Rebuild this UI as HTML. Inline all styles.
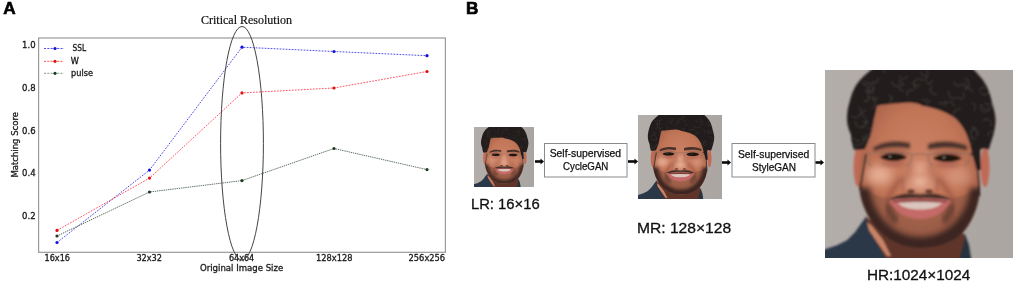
<!DOCTYPE html>
<html><head><meta charset="utf-8"><title>Figure</title>
<style>
html,body{margin:0;padding:0;background:#fff;}
body{width:1021px;height:288px;overflow:hidden;}
svg.main{display:block;}
</style></head>
<body>
<svg class="main" width="1021" height="288" viewBox="0 0 1021 288">
<rect width="1021" height="288" fill="#fff"/>

<g id="chart">
  <text x="3.2" y="13.6" font-family="Liberation Sans, Arial, sans-serif" font-weight="bold" font-size="17.2" fill="#000" stroke="#000" stroke-width="0.6">A</text>
  <text x="201" y="23.6" font-family="Liberation Serif, Times New Roman, serif" font-size="12.2" fill="#111" stroke="#111" stroke-width="0.2" textLength="91" lengthAdjust="spacingAndGlyphs">Critical Resolution</text>
  <rect x="38.6" y="38" width="406.8" height="214.3" fill="none" stroke="#9a9a9a" stroke-width="1.2"/>

  <g font-family="DejaVu Sans, sans-serif" font-size="8.5" fill="#1a1a1a" stroke="#1a1a1a" stroke-width="0.3" text-anchor="end">
    <text x="35.6" y="48.0">1.0</text>
    <text x="35.6" y="90.8">0.8</text>
    <text x="35.6" y="133.5">0.6</text>
    <text x="35.6" y="176.3">0.4</text>
    <text x="35.6" y="219.1">0.2</text>
  </g>
  <g font-family="DejaVu Sans, sans-serif" font-size="8.5" fill="#1a1a1a" stroke="#1a1a1a" stroke-width="0.3" text-anchor="middle">
    <text x="57.25" y="261.1" font-size="8.1" textLength="25.6" lengthAdjust="spacingAndGlyphs">16x16</text>
    <text x="149.2" y="261.1" font-size="8.1" textLength="25.6" lengthAdjust="spacingAndGlyphs">32x32</text>
    <text x="241.6" y="261.1" font-size="8.1" textLength="25.3" lengthAdjust="spacingAndGlyphs">64x64</text>
    <text x="334.3" y="261.1" font-size="8.1" textLength="36.6" lengthAdjust="spacingAndGlyphs">128x128</text>
    <text x="426.85" y="261.1" font-size="8.1" textLength="36.6" lengthAdjust="spacingAndGlyphs">256x256</text>
  </g>
  <text x="241.6" y="270.8" font-family="DejaVu Sans, sans-serif" font-size="8.5" fill="#1a1a1a" stroke="#1a1a1a" stroke-width="0.3" text-anchor="middle" textLength="83.3" lengthAdjust="spacingAndGlyphs">Original Image Size</text>
  <text transform="translate(18.4,144.8) rotate(-90)" font-family="DejaVu Sans, sans-serif" font-size="8.5" fill="#1a1a1a" stroke="#1a1a1a" stroke-width="0.3" text-anchor="middle" textLength="65.5" lengthAdjust="spacingAndGlyphs">Matching Score</text>

  <g fill="none" stroke-width="0.85" stroke-dasharray="1.7 1.3">
    <polyline points="57,242.5 149.5,170.1 242,47.2 334,51.5 427,55.7" stroke="#2a2ae0"/>
    <polyline points="57,230.4 149.5,178.1 242,92.9 334,88 427,71.5" stroke="#ff3344"/>
    <polyline points="57,236 149.5,192 242,180.6 334,148.5 427,169.6" stroke="#5f7363" stroke-width="1" stroke-dasharray="1.4 0.8"/>
  </g>
  <circle cx="57" cy="242.5" r="1.6" fill="#1010e0"/><circle cx="149.5" cy="170.1" r="1.6" fill="#1010e0"/><circle cx="242" cy="47.2" r="1.6" fill="#1010e0"/><circle cx="334" cy="51.5" r="1.6" fill="#1010e0"/><circle cx="427" cy="55.7" r="1.6" fill="#1010e0"/>
  <circle cx="57" cy="230.4" r="1.6" fill="#e01010"/><circle cx="149.5" cy="178.1" r="1.6" fill="#e01010"/><circle cx="242" cy="92.9" r="1.6" fill="#e01010"/><circle cx="334" cy="88" r="1.6" fill="#e01010"/><circle cx="427" cy="71.5" r="1.6" fill="#e01010"/>
  <circle cx="57" cy="236" r="1.6" fill="#1d3a22"/><circle cx="149.5" cy="192" r="1.6" fill="#1d3a22"/><circle cx="242" cy="180.6" r="1.6" fill="#1d3a22"/><circle cx="334" cy="148.5" r="1.6" fill="#1d3a22"/><circle cx="427" cy="169.6" r="1.6" fill="#1d3a22"/>

  <!-- legend -->
  <g fill="none" stroke-width="0.8" stroke-dasharray="2 1.3">
    <line x1="44" x2="64" y1="48.5" y2="48.5" stroke="#2020ff"/>
    <line x1="44" x2="64" y1="61.3" y2="61.3" stroke="#ff2020"/>
    <line x1="44" x2="64" y1="73.3" y2="73.3" stroke="#5e7e64"/>
  </g>
  <circle cx="55" cy="48.5" r="1.6" fill="#1010e0"/>
  <circle cx="55" cy="61.3" r="1.6" fill="#e01010"/>
  <circle cx="55" cy="73.3" r="1.6" fill="#1d3a22"/>
  <g font-family="DejaVu Sans, sans-serif" font-size="8.2" fill="#1a1a1a" stroke="#1a1a1a" stroke-width="0.3">
    <text x="72.5" y="50.8" textLength="13.6" lengthAdjust="spacingAndGlyphs">SSL</text>
    <text x="70.8" y="63.9">W</text>
    <text x="71.1" y="76.4" textLength="21.9" lengthAdjust="spacingAndGlyphs">pulse</text>
  </g>

  <ellipse cx="242" cy="143.3" rx="21.4" ry="116.8" fill="none" stroke="#444" stroke-width="1"/>
</g>


<g id="panelB">
  <text x="466" y="13.6" font-family="Liberation Sans, Arial, sans-serif" font-weight="bold" font-size="17.2" fill="#000" stroke="#000" stroke-width="0.7">B</text>
  <svg x="474" y="127" width="60" height="60" viewBox="0 0 188 188" preserveAspectRatio="none">
  <defs>
    <linearGradient id="bgl" x1="0" x2="1" y1="0" y2="0">
      <stop offset="0" stop-color="#b3aeaa"/>
      <stop offset="1" stop-color="#aba5a1"/>
    </linearGradient>
    <radialGradient id="skinl" cx="0.5" cy="0.45" r="0.62">
      <stop offset="0" stop-color="#cc8266"/>
      <stop offset="0.55" stop-color="#c27658"/>
      <stop offset="0.85" stop-color="#a9634b"/>
      <stop offset="1" stop-color="#8e5040"/>
    </radialGradient>
    <radialGradient id="brdl" gradientUnits="userSpaceOnUse" cx="95" cy="132" r="56" fx="95" fy="138">
      <stop offset="0" stop-color="#3a2620" stop-opacity="0.0"/>
      <stop offset="0.45" stop-color="#3a2620" stop-opacity="0.15"/>
      <stop offset="0.7" stop-color="#33221d" stop-opacity="0.55"/>
      <stop offset="0.88" stop-color="#2c1e1a" stop-opacity="0.88"/>
      <stop offset="1" stop-color="#261a17" stop-opacity="1"/>
    </radialGradient>
    <filter id="bll" x="-10%" y="-10%" width="120%" height="120%">
      <feGaussianBlur stdDeviation="2.3"/>
    </filter>
    <filter id="bbl" x="-20%" y="-20%" width="140%" height="140%">
      <feGaussianBlur stdDeviation="5.75"/>
    </filter>
    <filter id="bcl" x="-50%" y="-50%" width="200%" height="200%">
      <feGaussianBlur stdDeviation="11.5"/>
    </filter>
  </defs>
  <rect x="0" y="0" width="188" height="188" fill="url(#bgl)"/>
  <g filter="url(#bll)">
    <!-- shirt -->
    <path d="M-5,194 L-5,181 L12,175.3 L22,170.3 L30,162.2 L37.2,152.1 L41,147 L48,156 L66,190 Z" fill="#2c3847"/>
    <path d="M126,194 L132,170 L140,164 L144,175 L147,194 Z" fill="#27313e"/>
    <!-- neck -->
    <path d="M40,146 L60,162 L80,174 L98,177 L120,171 L136,158 L140,168 L133,194 L64,194 L46,162 Z" fill="#5e3429"/>
    <path d="M42,152 L47,156 L58,170 L66,186 L62,186 L52,172 L44,160 Z" fill="#c98466"/>
    <!-- ears -->
    <ellipse cx="33.5" cy="97" rx="5" ry="20" fill="#c06a56"/>
    <ellipse cx="160" cy="97" rx="4.5" ry="20" fill="#c06a56"/>
    <!-- face skin -->
    <path d="M40,70 C40,50 44,36 50,30 C70,20 125,18 144,58 L150,80 C154,95 156,115 154,127 C151,145 143,158 133,168 C122,175 108,178 95,178 C80,178 66,172 56,163 C47,154 40,143 36,128 C33,115 33,95 37,78 Z" fill="url(#skinl)"/>
    <!-- cheeks -->
    <ellipse cx="54" cy="105" rx="13" ry="10" fill="#f2c0a8" opacity="0.75" filter="url(#bcl)"/>
    <ellipse cx="133" cy="106" rx="13" ry="10" fill="#e8b09a" opacity="0.45" filter="url(#bcl)"/>
    <!-- beard -->
    <clipPath id="fcl"><path d="M40,70 C40,50 44,36 50,30 C70,20 125,18 144,58 L150,80 C154,95 156,115 154,127 C151,145 143,158 133,168 C122,175 108,178 95,178 C80,178 66,172 56,163 C47,154 40,143 36,128 C33,115 33,95 37,78 Z"/></clipPath>
    <g clip-path="url(#fcl)">
      <path d="M30,108 C35,128 42,146 56,161 C66,171 80,180 96,180 C112,180 127,169 138,157 C150,144 158,128 160,108 C152,118 146,123 136,126 C128,128 124,128 120,126 C110,123 100,123 95,123 C88,123 78,123 70,126 C64,128 60,128 54,126 C44,123 38,118 30,108 Z" fill="#3a2620" opacity="0.22"/>
      <path d="M37,118 C38,134 45,148 57,160 C68,170 82,175 95,175 C110,175 124,169 135,159 C146,147 152,134 153,118" fill="none" stroke="#2c1e1a" stroke-width="16" opacity="0.82" filter="url(#bbl)"/>
      <path d="M62,134 C64,142 68,148 72,152" fill="none" stroke="#2c1e1a" stroke-width="7" opacity="0.5" filter="url(#bbl)"/>
      <path d="M128,134 C126,142 122,148 118,152" fill="none" stroke="#2c1e1a" stroke-width="7" opacity="0.5" filter="url(#bbl)"/>
    </g>
    <!-- nasolabial shadows -->
    <path d="M77,108 C70,116 64,124 62,132" fill="none" stroke="#7e4032" stroke-width="3" opacity="0.8" filter="url(#bbl)"/>
    <path d="M113,108 C120,116 126,124 128,132" fill="none" stroke="#7e4032" stroke-width="3" opacity="0.8" filter="url(#bbl)"/>
    <!-- mustache -->
    <path d="M63,131 C70,124 84,122 95,124 C106,122 120,124 127,131 C116,128.5 106,128 95,129 C84,128 74,128.5 63,131 Z" fill="#46302a"/>
    <!-- mouth -->
    <path d="M64,130 C80,128 110,128 126,130 C120,143 107,149 95,149 C83,149 70,143 64,130 Z" fill="#c46a68"/>
    <path d="M73,133 C85,131.5 106,131.5 117,133 C113,137.5 105,139.5 95,139.5 C85,139.5 77,137.5 73,133 Z" fill="#dac6bc"/>
    <path d="M68,131 C85,129.5 106,129.5 122,131 L122,132.3 C106,131 85,131 68,132.3 Z" fill="#5a2a28"/>
    <!-- nose -->
    <path d="M86,92 C85,102 80,109 78,115 C80,121 88,123 95,123 C102,123 110,121 112,115 C110,109 105,102 104,92 Z" fill="#d99a80" opacity="0.7" filter="url(#bbl)"/>
    <path d="M86,94 C85,103 81,108 78,113" fill="none" stroke="#8e4c3c" stroke-width="2.5" opacity="0.55" filter="url(#bbl)"/>
    <path d="M104,94 C105,103 109,108 112,113" fill="none" stroke="#8e4c3c" stroke-width="2.5" opacity="0.55" filter="url(#bbl)"/>
    <ellipse cx="95" cy="112" rx="6.5" ry="5" fill="#ecb8a0" opacity="0.85" filter="url(#bbl)"/>
    <ellipse cx="95" cy="99" rx="3" ry="8" fill="#e6ac94" opacity="0.7" filter="url(#bbl)"/>
    <path d="M79,111 C76,115 76,119 80,121.5" fill="none" stroke="#7e4236" stroke-width="2" opacity="0.7" filter="url(#bbl)"/>
    <path d="M111,111 C114,115 114,119 110,121.5" fill="none" stroke="#7e4236" stroke-width="2" opacity="0.7" filter="url(#bbl)"/>
    <ellipse cx="86" cy="121" rx="4" ry="1.8" fill="#5a2c24" opacity="0.9"/>
    <ellipse cx="104" cy="121" rx="4" ry="1.8" fill="#5a2c24" opacity="0.9"/>
    <!-- eyebrows -->
    <path d="M48,78 C57,71 72,70 85,73 L85,78.5 C72,76 60,77 49,81 Z" fill="#46302a" filter="url(#bll)"/>
    <path d="M103,74 C117,70 131,71 142,76 L142,80.5 C131,77 118,77 103,79.5 Z" fill="#46302a" filter="url(#bll)"/>
    <!-- upper lid shadow -->
    <ellipse cx="68.5" cy="84" rx="15" ry="4" fill="#7a4234" opacity="0.55" filter="url(#bbl)"/>
    <ellipse cx="122.5" cy="85" rx="15" ry="4" fill="#7a4234" opacity="0.55" filter="url(#bbl)"/>
    <!-- lower lid shading -->
    <ellipse cx="68.5" cy="93" rx="13" ry="3.5" fill="#9a5048" opacity="0.55" filter="url(#bbl)"/>
    <ellipse cx="122.5" cy="94" rx="13" ry="3.5" fill="#9a5048" opacity="0.55" filter="url(#bbl)"/>
    <!-- eyes -->
    <path d="M55,87.5 C60,82 76,81.5 82,87.5 C76,92 61,92 55,87.5 Z" fill="#1c1210"/>
    <path d="M108,88.5 C114,83 130,82.5 137,88.5 C130,93 115,93 108,88.5 Z" fill="#1c1210"/>
    <circle cx="65" cy="86.5" r="0.8" fill="#cfc4c0"/>
    <circle cx="119" cy="87.5" r="0.8" fill="#cfc4c0"/>
    <!-- glasses -->
    <g fill="none" stroke="#8a6e62" stroke-width="1.1">
      <path d="M41,84 C55,82 75,82 87,84.5 C87,90 86,94 82,96"/>
      <path d="M41,84 C41,89 43,94 47,96"/>
      <path d="M103,84.5 C117,82 133,82 145,84 C145,90 143,94 139,96"/>
      <path d="M103,84.5 C103,90 104,94 108,96"/>
      <path d="M87,85 C92,83.5 98,83.5 103,85"/>
      <path d="M41,84 L35,120" stroke="#2a1e1a" stroke-width="1.6"/>
      <path d="M145,84 L152,86 L154.5,126" stroke="#2a1e1a" stroke-width="1.6"/>
    </g>
    <!-- hair -->
    <path d="M50,-3 L146,-3 C152,3 157,8 160,13 C164,20 166,27 167,33 C169,39 170.5,45 170.5,50 C170.5,56 169.5,61 168,66 C166.5,71 165,75 163.5,80 C160,78 157,78 155,80 L156,100 L151.5,100 C150,92 147,84 146,79 C145,73 143,68 141,63 C138,57 135,53 131,49 C126,45 120,42 114,40 C108,38 102,36.5 98,36 C94,34 90,33 85,32.6 C78,33 71,33.5 65,34 C59,34.5 55,35 52,36 C51,41 50,45 49,49 C48,55 47,60 45.7,65 C44,70 42,74 40,79 C36,80 32,80 29,80 C27,74 26,69 26,65 C24,60 22,55 22,49 C22,43 23,37 24.5,32.6 C26,25 29,18 32.6,13 C37,7 43,2 50,-3 Z" fill="#211d1c"/>
    <clipPath id="hcl"><path d="M50,-3 L146,-3 C152,3 157,8 160,13 C164,20 166,27 167,33 C169,39 170.5,45 170.5,50 C170.5,56 169.5,61 168,66 C166.5,71 165,75 163.5,80 C160,78 157,78 155,80 L156,100 L151.5,100 C150,92 147,84 146,79 C145,73 143,68 141,63 C138,57 135,53 131,49 C126,45 120,42 114,40 C108,38 102,36.5 98,36 C94,34 90,33 85,32.6 C78,33 71,33.5 65,34 C59,34.5 55,35 52,36 C51,41 50,45 49,49 C48,55 47,60 45.7,65 C44,70 42,74 40,79 C36,80 32,80 29,80 C27,74 26,69 26,65 C24,60 22,55 22,49 C22,43 23,37 24.5,32.6 C26,25 29,18 32.6,13 C37,7 43,2 50,-3 Z"/></clipPath>
    <g fill="none" stroke="#504a48" stroke-width="1.1" opacity="0.65" clip-path="url(#hcl)">
      <path d="M76.4,13.9 A5.0,5.0 0 0 1 67.1,11.2"/>
      <path d="M82.3,5.6 A4.5,4.5 0 0 1 73.6,5.7"/>
      <path d="M48.2,15.8 A4.9,4.9 0 0 1 39.6,20.2"/>
      <path d="M35.0,70.0 A3.9,3.9 0 0 1 28.8,67.2"/>
      <path d="M121.0,30.8 A4.6,4.6 0 0 1 113.1,31.9"/>
      <path d="M82.2,25.9 A4.8,4.8 0 0 1 89.3,20.5"/>
      <path d="M134.0,26.5 A5.9,5.9 0 0 1 123.8,21.1"/>
      <path d="M137.8,12.9 A4.5,4.5 0 0 1 129.1,11.4"/>
      <path d="M132.4,49.9 A5.6,5.6 0 0 1 136.2,39.3"/>
      <path d="M164.8,38.8 A5.0,5.0 0 0 1 155.4,35.5"/>
      <path d="M140.7,18.6 A4.2,4.2 0 0 1 146.9,22.0"/>
      <path d="M94.7,14.3 A3.4,3.4 0 0 1 88.4,11.9"/>
      <path d="M47.2,16.3 A4.2,4.2 0 0 1 45.4,23.3"/>
      <path d="M150.5,69.4 A5.6,5.6 0 0 1 149.6,58.6"/>
      <path d="M162.4,15.3 A3.5,3.5 0 0 1 159.2,9.6"/>
      <path d="M60.4,3.4 A4.3,4.3 0 0 1 65.2,-3.5"/>
      <path d="M158.0,50.8 A4.5,4.5 0 0 1 165.1,56.5"/>
      <path d="M37.4,66.4 A5.3,5.3 0 0 1 29.7,73.7"/>
      <path d="M43.6,50.8 A3.2,3.2 0 0 1 37.8,50.7"/>
      <path d="M52.2,26.5 A3.2,3.2 0 0 1 47.1,29.0"/>
      <path d="M42.6,26.2 A3.1,3.1 0 0 1 38.8,31.0"/>
      <path d="M44.4,22.7 A4.0,4.0 0 0 1 46.1,15.8"/>
      <path d="M142.2,77.9 A4.4,4.4 0 0 1 148.5,73.5"/>
      <path d="M42.3,23.4 A3.8,3.8 0 0 1 42.0,30.2"/>
      <path d="M32.1,77.8 A4.6,4.6 0 0 1 25.5,71.6"/>
      <path d="M33.7,36.7 A5.9,5.9 0 0 1 26.4,46.1"/>
      <path d="M63.6,25.1 A3.5,3.5 0 0 1 63.8,32.0"/>
      <path d="M138.0,22.3 A3.7,3.7 0 0 1 134.2,28.5"/>
      <path d="M146.7,57.4 A5.5,5.5 0 0 1 151.2,66.4"/>
      <path d="M102.5,28.3 A3.1,3.1 0 0 1 96.9,29.3"/>
      <path d="M167.6,34.4 A5.8,5.8 0 0 1 156.1,33.7"/>
      <path d="M79.0,20.7 A3.7,3.7 0 0 1 74.4,15.8"/>
      <path d="M146.9,32.7 A5.0,5.0 0 0 1 148.6,41.2"/>
      <path d="M91.2,18.6 A5.4,5.4 0 0 1 96.8,9.4"/>
      <path d="M167.9,29.5 A4.2,4.2 0 0 1 160.1,32.5"/>
      <path d="M53.0,8.0 A3.5,3.5 0 0 1 47.2,11.7"/>
      <path d="M43.5,59.5 A5.9,5.9 0 0 1 52.3,66.6"/>
      <path d="M106.9,9.7 A3.0,3.0 0 0 1 101.1,11.3"/>
      <path d="M142.3,20.1 A3.8,3.8 0 0 1 141.5,13.2"/>
      <path d="M112.2,23.4 A4.3,4.3 0 0 1 107.1,16.5"/>
      <path d="M102.1,5.4 A4.3,4.3 0 0 1 96.0,1.4"/>
      <path d="M138.8,9.1 A4.4,4.4 0 0 1 141.5,17.4"/>
      <path d="M40.4,47.4 A3.7,3.7 0 0 1 41.8,40.0"/>
      <path d="M119.8,35.9 A4.6,4.6 0 0 1 128.9,35.9"/>
      <path d="M164.2,18.6 A4.7,4.7 0 0 1 155.2,21.4"/>
      <path d="M49.4,11.4 A4.3,4.3 0 0 1 41.4,10.9"/>
      <path d="M40.6,49.0 A5.4,5.4 0 0 1 36.3,57.6"/>
      <path d="M47.4,74.7 A5.9,5.9 0 0 1 46.9,63.0"/>
      <path d="M163.4,66.4 A3.5,3.5 0 0 1 169.0,62.4"/>
      <path d="M73.5,11.4 A4.0,4.0 0 0 1 78.0,16.4"/>
      <path d="M103.2,37.0 A3.1,3.1 0 0 1 105.6,31.4"/>
      <path d="M100.1,-0.8 A6.0,6.0 0 0 1 95.6,10.1"/>
      <path d="M41.4,17.6 A3.1,3.1 0 0 1 42.5,23.4"/>
      <path d="M46.8,27.7 A5.7,5.7 0 0 1 46.2,38.4"/>
      <path d="M45.8,67.2 A4.7,4.7 0 0 1 51.8,72.9"/>
      <path d="M38.0,55.6 A4.3,4.3 0 0 1 31.0,50.9"/>
      <path d="M40.0,64.4 A3.2,3.2 0 0 1 37.1,69.9"/>
      <path d="M154.2,20.3 A3.4,3.4 0 0 1 160.4,18.9"/>
      <path d="M42.5,15.6 A3.2,3.2 0 0 1 38.9,10.8"/>
      <path d="M51.3,30.1 A3.1,3.1 0 0 1 48.5,25.7"/>
    </g>
  </g>
</svg>
  <svg x="638" y="115" width="84" height="84" viewBox="0 0 188 188" preserveAspectRatio="none">
  <defs>
    <linearGradient id="bgm" x1="0" x2="1" y1="0" y2="0">
      <stop offset="0" stop-color="#b3aeaa"/>
      <stop offset="1" stop-color="#aba5a1"/>
    </linearGradient>
    <radialGradient id="skinm" cx="0.5" cy="0.45" r="0.62">
      <stop offset="0" stop-color="#cc8266"/>
      <stop offset="0.55" stop-color="#c27658"/>
      <stop offset="0.85" stop-color="#a9634b"/>
      <stop offset="1" stop-color="#8e5040"/>
    </radialGradient>
    <radialGradient id="brdm" gradientUnits="userSpaceOnUse" cx="95" cy="132" r="56" fx="95" fy="138">
      <stop offset="0" stop-color="#3a2620" stop-opacity="0.0"/>
      <stop offset="0.45" stop-color="#3a2620" stop-opacity="0.15"/>
      <stop offset="0.7" stop-color="#33221d" stop-opacity="0.55"/>
      <stop offset="0.88" stop-color="#2c1e1a" stop-opacity="0.88"/>
      <stop offset="1" stop-color="#261a17" stop-opacity="1"/>
    </radialGradient>
    <filter id="blm" x="-10%" y="-10%" width="120%" height="120%">
      <feGaussianBlur stdDeviation="1.3"/>
    </filter>
    <filter id="bbm" x="-20%" y="-20%" width="140%" height="140%">
      <feGaussianBlur stdDeviation="3.25"/>
    </filter>
    <filter id="bcm" x="-50%" y="-50%" width="200%" height="200%">
      <feGaussianBlur stdDeviation="6.5"/>
    </filter>
  </defs>
  <rect x="0" y="0" width="188" height="188" fill="url(#bgm)"/>
  <g filter="url(#blm)">
    <!-- shirt -->
    <path d="M-5,194 L-5,181 L12,175.3 L22,170.3 L30,162.2 L37.2,152.1 L41,147 L48,156 L66,190 Z" fill="#2c3847"/>
    <path d="M126,194 L132,170 L140,164 L144,175 L147,194 Z" fill="#27313e"/>
    <!-- neck -->
    <path d="M40,146 L60,162 L80,174 L98,177 L120,171 L136,158 L140,168 L133,194 L64,194 L46,162 Z" fill="#5e3429"/>
    <path d="M42,152 L47,156 L58,170 L66,186 L62,186 L52,172 L44,160 Z" fill="#c98466"/>
    <!-- ears -->
    <ellipse cx="33.5" cy="97" rx="5" ry="20" fill="#c06a56"/>
    <ellipse cx="160" cy="97" rx="4.5" ry="20" fill="#c06a56"/>
    <!-- face skin -->
    <path d="M40,70 C40,50 44,36 50,30 C70,20 125,18 144,58 L150,80 C154,95 156,115 154,127 C151,145 143,158 133,168 C122,175 108,178 95,178 C80,178 66,172 56,163 C47,154 40,143 36,128 C33,115 33,95 37,78 Z" fill="url(#skinm)"/>
    <!-- cheeks -->
    <ellipse cx="54" cy="105" rx="13" ry="10" fill="#f2c0a8" opacity="0.75" filter="url(#bcm)"/>
    <ellipse cx="133" cy="106" rx="13" ry="10" fill="#e8b09a" opacity="0.45" filter="url(#bcm)"/>
    <!-- beard -->
    <clipPath id="fcm"><path d="M40,70 C40,50 44,36 50,30 C70,20 125,18 144,58 L150,80 C154,95 156,115 154,127 C151,145 143,158 133,168 C122,175 108,178 95,178 C80,178 66,172 56,163 C47,154 40,143 36,128 C33,115 33,95 37,78 Z"/></clipPath>
    <g clip-path="url(#fcm)">
      <path d="M30,108 C35,128 42,146 56,161 C66,171 80,180 96,180 C112,180 127,169 138,157 C150,144 158,128 160,108 C152,118 146,123 136,126 C128,128 124,128 120,126 C110,123 100,123 95,123 C88,123 78,123 70,126 C64,128 60,128 54,126 C44,123 38,118 30,108 Z" fill="#3a2620" opacity="0.22"/>
      <path d="M37,118 C38,134 45,148 57,160 C68,170 82,175 95,175 C110,175 124,169 135,159 C146,147 152,134 153,118" fill="none" stroke="#2c1e1a" stroke-width="16" opacity="0.82" filter="url(#bbm)"/>
      <path d="M62,134 C64,142 68,148 72,152" fill="none" stroke="#2c1e1a" stroke-width="7" opacity="0.5" filter="url(#bbm)"/>
      <path d="M128,134 C126,142 122,148 118,152" fill="none" stroke="#2c1e1a" stroke-width="7" opacity="0.5" filter="url(#bbm)"/>
    </g>
    <!-- nasolabial shadows -->
    <path d="M77,108 C70,116 64,124 62,132" fill="none" stroke="#7e4032" stroke-width="3" opacity="0.8" filter="url(#bbm)"/>
    <path d="M113,108 C120,116 126,124 128,132" fill="none" stroke="#7e4032" stroke-width="3" opacity="0.8" filter="url(#bbm)"/>
    <!-- mustache -->
    <path d="M63,131 C70,124 84,122 95,124 C106,122 120,124 127,131 C116,128.5 106,128 95,129 C84,128 74,128.5 63,131 Z" fill="#46302a"/>
    <!-- mouth -->
    <path d="M64,130 C80,128 110,128 126,130 C120,143 107,149 95,149 C83,149 70,143 64,130 Z" fill="#c46a68"/>
    <path d="M73,133 C85,131.5 106,131.5 117,133 C113,137.5 105,139.5 95,139.5 C85,139.5 77,137.5 73,133 Z" fill="#dac6bc"/>
    <path d="M68,131 C85,129.5 106,129.5 122,131 L122,132.3 C106,131 85,131 68,132.3 Z" fill="#5a2a28"/>
    <!-- nose -->
    <path d="M86,92 C85,102 80,109 78,115 C80,121 88,123 95,123 C102,123 110,121 112,115 C110,109 105,102 104,92 Z" fill="#d99a80" opacity="0.7" filter="url(#bbm)"/>
    <path d="M86,94 C85,103 81,108 78,113" fill="none" stroke="#8e4c3c" stroke-width="2.5" opacity="0.55" filter="url(#bbm)"/>
    <path d="M104,94 C105,103 109,108 112,113" fill="none" stroke="#8e4c3c" stroke-width="2.5" opacity="0.55" filter="url(#bbm)"/>
    <ellipse cx="95" cy="112" rx="6.5" ry="5" fill="#ecb8a0" opacity="0.85" filter="url(#bbm)"/>
    <ellipse cx="95" cy="99" rx="3" ry="8" fill="#e6ac94" opacity="0.7" filter="url(#bbm)"/>
    <path d="M79,111 C76,115 76,119 80,121.5" fill="none" stroke="#7e4236" stroke-width="2" opacity="0.7" filter="url(#bbm)"/>
    <path d="M111,111 C114,115 114,119 110,121.5" fill="none" stroke="#7e4236" stroke-width="2" opacity="0.7" filter="url(#bbm)"/>
    <ellipse cx="86" cy="121" rx="4" ry="1.8" fill="#5a2c24" opacity="0.9"/>
    <ellipse cx="104" cy="121" rx="4" ry="1.8" fill="#5a2c24" opacity="0.9"/>
    <!-- eyebrows -->
    <path d="M48,78 C57,71 72,70 85,73 L85,78.5 C72,76 60,77 49,81 Z" fill="#46302a" filter="url(#blm)"/>
    <path d="M103,74 C117,70 131,71 142,76 L142,80.5 C131,77 118,77 103,79.5 Z" fill="#46302a" filter="url(#blm)"/>
    <!-- upper lid shadow -->
    <ellipse cx="68.5" cy="84" rx="15" ry="4" fill="#7a4234" opacity="0.55" filter="url(#bbm)"/>
    <ellipse cx="122.5" cy="85" rx="15" ry="4" fill="#7a4234" opacity="0.55" filter="url(#bbm)"/>
    <!-- lower lid shading -->
    <ellipse cx="68.5" cy="93" rx="13" ry="3.5" fill="#9a5048" opacity="0.55" filter="url(#bbm)"/>
    <ellipse cx="122.5" cy="94" rx="13" ry="3.5" fill="#9a5048" opacity="0.55" filter="url(#bbm)"/>
    <!-- eyes -->
    <path d="M55,87.5 C60,82 76,81.5 82,87.5 C76,92 61,92 55,87.5 Z" fill="#1c1210"/>
    <path d="M108,88.5 C114,83 130,82.5 137,88.5 C130,93 115,93 108,88.5 Z" fill="#1c1210"/>
    <circle cx="65" cy="86.5" r="0.8" fill="#cfc4c0"/>
    <circle cx="119" cy="87.5" r="0.8" fill="#cfc4c0"/>
    <!-- glasses -->
    <g fill="none" stroke="#8a6e62" stroke-width="1.1">
      <path d="M41,84 C55,82 75,82 87,84.5 C87,90 86,94 82,96"/>
      <path d="M41,84 C41,89 43,94 47,96"/>
      <path d="M103,84.5 C117,82 133,82 145,84 C145,90 143,94 139,96"/>
      <path d="M103,84.5 C103,90 104,94 108,96"/>
      <path d="M87,85 C92,83.5 98,83.5 103,85"/>
      <path d="M41,84 L35,120" stroke="#2a1e1a" stroke-width="1.6"/>
      <path d="M145,84 L152,86 L154.5,126" stroke="#2a1e1a" stroke-width="1.6"/>
    </g>
    <!-- hair -->
    <path d="M50,-3 L146,-3 C152,3 157,8 160,13 C164,20 166,27 167,33 C169,39 170.5,45 170.5,50 C170.5,56 169.5,61 168,66 C166.5,71 165,75 163.5,80 C160,78 157,78 155,80 L156,100 L151.5,100 C150,92 147,84 146,79 C145,73 143,68 141,63 C138,57 135,53 131,49 C126,45 120,42 114,40 C108,38 102,36.5 98,36 C94,34 90,33 85,32.6 C78,33 71,33.5 65,34 C59,34.5 55,35 52,36 C51,41 50,45 49,49 C48,55 47,60 45.7,65 C44,70 42,74 40,79 C36,80 32,80 29,80 C27,74 26,69 26,65 C24,60 22,55 22,49 C22,43 23,37 24.5,32.6 C26,25 29,18 32.6,13 C37,7 43,2 50,-3 Z" fill="#211d1c"/>
    <clipPath id="hcm"><path d="M50,-3 L146,-3 C152,3 157,8 160,13 C164,20 166,27 167,33 C169,39 170.5,45 170.5,50 C170.5,56 169.5,61 168,66 C166.5,71 165,75 163.5,80 C160,78 157,78 155,80 L156,100 L151.5,100 C150,92 147,84 146,79 C145,73 143,68 141,63 C138,57 135,53 131,49 C126,45 120,42 114,40 C108,38 102,36.5 98,36 C94,34 90,33 85,32.6 C78,33 71,33.5 65,34 C59,34.5 55,35 52,36 C51,41 50,45 49,49 C48,55 47,60 45.7,65 C44,70 42,74 40,79 C36,80 32,80 29,80 C27,74 26,69 26,65 C24,60 22,55 22,49 C22,43 23,37 24.5,32.6 C26,25 29,18 32.6,13 C37,7 43,2 50,-3 Z"/></clipPath>
    <g fill="none" stroke="#504a48" stroke-width="1.1" opacity="0.65" clip-path="url(#hcm)">
      <path d="M76.4,13.9 A5.0,5.0 0 0 1 67.1,11.2"/>
      <path d="M82.3,5.6 A4.5,4.5 0 0 1 73.6,5.7"/>
      <path d="M48.2,15.8 A4.9,4.9 0 0 1 39.6,20.2"/>
      <path d="M35.0,70.0 A3.9,3.9 0 0 1 28.8,67.2"/>
      <path d="M121.0,30.8 A4.6,4.6 0 0 1 113.1,31.9"/>
      <path d="M82.2,25.9 A4.8,4.8 0 0 1 89.3,20.5"/>
      <path d="M134.0,26.5 A5.9,5.9 0 0 1 123.8,21.1"/>
      <path d="M137.8,12.9 A4.5,4.5 0 0 1 129.1,11.4"/>
      <path d="M132.4,49.9 A5.6,5.6 0 0 1 136.2,39.3"/>
      <path d="M164.8,38.8 A5.0,5.0 0 0 1 155.4,35.5"/>
      <path d="M140.7,18.6 A4.2,4.2 0 0 1 146.9,22.0"/>
      <path d="M94.7,14.3 A3.4,3.4 0 0 1 88.4,11.9"/>
      <path d="M47.2,16.3 A4.2,4.2 0 0 1 45.4,23.3"/>
      <path d="M150.5,69.4 A5.6,5.6 0 0 1 149.6,58.6"/>
      <path d="M162.4,15.3 A3.5,3.5 0 0 1 159.2,9.6"/>
      <path d="M60.4,3.4 A4.3,4.3 0 0 1 65.2,-3.5"/>
      <path d="M158.0,50.8 A4.5,4.5 0 0 1 165.1,56.5"/>
      <path d="M37.4,66.4 A5.3,5.3 0 0 1 29.7,73.7"/>
      <path d="M43.6,50.8 A3.2,3.2 0 0 1 37.8,50.7"/>
      <path d="M52.2,26.5 A3.2,3.2 0 0 1 47.1,29.0"/>
      <path d="M42.6,26.2 A3.1,3.1 0 0 1 38.8,31.0"/>
      <path d="M44.4,22.7 A4.0,4.0 0 0 1 46.1,15.8"/>
      <path d="M142.2,77.9 A4.4,4.4 0 0 1 148.5,73.5"/>
      <path d="M42.3,23.4 A3.8,3.8 0 0 1 42.0,30.2"/>
      <path d="M32.1,77.8 A4.6,4.6 0 0 1 25.5,71.6"/>
      <path d="M33.7,36.7 A5.9,5.9 0 0 1 26.4,46.1"/>
      <path d="M63.6,25.1 A3.5,3.5 0 0 1 63.8,32.0"/>
      <path d="M138.0,22.3 A3.7,3.7 0 0 1 134.2,28.5"/>
      <path d="M146.7,57.4 A5.5,5.5 0 0 1 151.2,66.4"/>
      <path d="M102.5,28.3 A3.1,3.1 0 0 1 96.9,29.3"/>
      <path d="M167.6,34.4 A5.8,5.8 0 0 1 156.1,33.7"/>
      <path d="M79.0,20.7 A3.7,3.7 0 0 1 74.4,15.8"/>
      <path d="M146.9,32.7 A5.0,5.0 0 0 1 148.6,41.2"/>
      <path d="M91.2,18.6 A5.4,5.4 0 0 1 96.8,9.4"/>
      <path d="M167.9,29.5 A4.2,4.2 0 0 1 160.1,32.5"/>
      <path d="M53.0,8.0 A3.5,3.5 0 0 1 47.2,11.7"/>
      <path d="M43.5,59.5 A5.9,5.9 0 0 1 52.3,66.6"/>
      <path d="M106.9,9.7 A3.0,3.0 0 0 1 101.1,11.3"/>
      <path d="M142.3,20.1 A3.8,3.8 0 0 1 141.5,13.2"/>
      <path d="M112.2,23.4 A4.3,4.3 0 0 1 107.1,16.5"/>
      <path d="M102.1,5.4 A4.3,4.3 0 0 1 96.0,1.4"/>
      <path d="M138.8,9.1 A4.4,4.4 0 0 1 141.5,17.4"/>
      <path d="M40.4,47.4 A3.7,3.7 0 0 1 41.8,40.0"/>
      <path d="M119.8,35.9 A4.6,4.6 0 0 1 128.9,35.9"/>
      <path d="M164.2,18.6 A4.7,4.7 0 0 1 155.2,21.4"/>
      <path d="M49.4,11.4 A4.3,4.3 0 0 1 41.4,10.9"/>
      <path d="M40.6,49.0 A5.4,5.4 0 0 1 36.3,57.6"/>
      <path d="M47.4,74.7 A5.9,5.9 0 0 1 46.9,63.0"/>
      <path d="M163.4,66.4 A3.5,3.5 0 0 1 169.0,62.4"/>
      <path d="M73.5,11.4 A4.0,4.0 0 0 1 78.0,16.4"/>
      <path d="M103.2,37.0 A3.1,3.1 0 0 1 105.6,31.4"/>
      <path d="M100.1,-0.8 A6.0,6.0 0 0 1 95.6,10.1"/>
      <path d="M41.4,17.6 A3.1,3.1 0 0 1 42.5,23.4"/>
      <path d="M46.8,27.7 A5.7,5.7 0 0 1 46.2,38.4"/>
      <path d="M45.8,67.2 A4.7,4.7 0 0 1 51.8,72.9"/>
      <path d="M38.0,55.6 A4.3,4.3 0 0 1 31.0,50.9"/>
      <path d="M40.0,64.4 A3.2,3.2 0 0 1 37.1,69.9"/>
      <path d="M154.2,20.3 A3.4,3.4 0 0 1 160.4,18.9"/>
      <path d="M42.5,15.6 A3.2,3.2 0 0 1 38.9,10.8"/>
      <path d="M51.3,30.1 A3.1,3.1 0 0 1 48.5,25.7"/>
    </g>
  </g>
</svg>
  <svg x="825" y="70" width="188" height="188" viewBox="0 0 188 188" preserveAspectRatio="none">
  <defs>
    <linearGradient id="bgh" x1="0" x2="1" y1="0" y2="0">
      <stop offset="0" stop-color="#b3aeaa"/>
      <stop offset="1" stop-color="#aba5a1"/>
    </linearGradient>
    <radialGradient id="skinh" cx="0.5" cy="0.45" r="0.62">
      <stop offset="0" stop-color="#cc8266"/>
      <stop offset="0.55" stop-color="#c27658"/>
      <stop offset="0.85" stop-color="#a9634b"/>
      <stop offset="1" stop-color="#8e5040"/>
    </radialGradient>
    <radialGradient id="brdh" gradientUnits="userSpaceOnUse" cx="95" cy="132" r="56" fx="95" fy="138">
      <stop offset="0" stop-color="#3a2620" stop-opacity="0.0"/>
      <stop offset="0.45" stop-color="#3a2620" stop-opacity="0.15"/>
      <stop offset="0.7" stop-color="#33221d" stop-opacity="0.55"/>
      <stop offset="0.88" stop-color="#2c1e1a" stop-opacity="0.88"/>
      <stop offset="1" stop-color="#261a17" stop-opacity="1"/>
    </radialGradient>
    <filter id="blh" x="-10%" y="-10%" width="120%" height="120%">
      <feGaussianBlur stdDeviation="1.0"/>
    </filter>
    <filter id="bbh" x="-20%" y="-20%" width="140%" height="140%">
      <feGaussianBlur stdDeviation="2.5"/>
    </filter>
    <filter id="bch" x="-50%" y="-50%" width="200%" height="200%">
      <feGaussianBlur stdDeviation="5.0"/>
    </filter>
  </defs>
  <rect x="0" y="0" width="188" height="188" fill="url(#bgh)"/>
  <g filter="url(#blh)">
    <!-- shirt -->
    <path d="M-5,194 L-5,181 L12,175.3 L22,170.3 L30,162.2 L37.2,152.1 L41,147 L48,156 L66,190 Z" fill="#2c3847"/>
    <path d="M126,194 L132,170 L140,164 L144,175 L147,194 Z" fill="#27313e"/>
    <!-- neck -->
    <path d="M40,146 L60,162 L80,174 L98,177 L120,171 L136,158 L140,168 L133,194 L64,194 L46,162 Z" fill="#5e3429"/>
    <path d="M42,152 L47,156 L58,170 L66,186 L62,186 L52,172 L44,160 Z" fill="#c98466"/>
    <!-- ears -->
    <ellipse cx="33.5" cy="97" rx="5" ry="20" fill="#c06a56"/>
    <ellipse cx="160" cy="97" rx="4.5" ry="20" fill="#c06a56"/>
    <!-- face skin -->
    <path d="M40,70 C40,50 44,36 50,30 C70,20 125,18 144,58 L150,80 C154,95 156,115 154,127 C151,145 143,158 133,168 C122,175 108,178 95,178 C80,178 66,172 56,163 C47,154 40,143 36,128 C33,115 33,95 37,78 Z" fill="url(#skinh)"/>
    <!-- cheeks -->
    <ellipse cx="54" cy="105" rx="13" ry="10" fill="#f2c0a8" opacity="0.75" filter="url(#bch)"/>
    <ellipse cx="133" cy="106" rx="13" ry="10" fill="#e8b09a" opacity="0.45" filter="url(#bch)"/>
    <!-- beard -->
    <clipPath id="fch"><path d="M40,70 C40,50 44,36 50,30 C70,20 125,18 144,58 L150,80 C154,95 156,115 154,127 C151,145 143,158 133,168 C122,175 108,178 95,178 C80,178 66,172 56,163 C47,154 40,143 36,128 C33,115 33,95 37,78 Z"/></clipPath>
    <g clip-path="url(#fch)">
      <path d="M30,108 C35,128 42,146 56,161 C66,171 80,180 96,180 C112,180 127,169 138,157 C150,144 158,128 160,108 C152,118 146,123 136,126 C128,128 124,128 120,126 C110,123 100,123 95,123 C88,123 78,123 70,126 C64,128 60,128 54,126 C44,123 38,118 30,108 Z" fill="#3a2620" opacity="0.22"/>
      <path d="M37,118 C38,134 45,148 57,160 C68,170 82,175 95,175 C110,175 124,169 135,159 C146,147 152,134 153,118" fill="none" stroke="#2c1e1a" stroke-width="16" opacity="0.82" filter="url(#bbh)"/>
      <path d="M62,134 C64,142 68,148 72,152" fill="none" stroke="#2c1e1a" stroke-width="7" opacity="0.5" filter="url(#bbh)"/>
      <path d="M128,134 C126,142 122,148 118,152" fill="none" stroke="#2c1e1a" stroke-width="7" opacity="0.5" filter="url(#bbh)"/>
    </g>
    <!-- nasolabial shadows -->
    <path d="M77,108 C70,116 64,124 62,132" fill="none" stroke="#7e4032" stroke-width="3" opacity="0.8" filter="url(#bbh)"/>
    <path d="M113,108 C120,116 126,124 128,132" fill="none" stroke="#7e4032" stroke-width="3" opacity="0.8" filter="url(#bbh)"/>
    <!-- mustache -->
    <path d="M63,131 C70,124 84,122 95,124 C106,122 120,124 127,131 C116,128.5 106,128 95,129 C84,128 74,128.5 63,131 Z" fill="#46302a"/>
    <!-- mouth -->
    <path d="M64,130 C80,128 110,128 126,130 C120,143 107,149 95,149 C83,149 70,143 64,130 Z" fill="#c46a68"/>
    <path d="M73,133 C85,131.5 106,131.5 117,133 C113,137.5 105,139.5 95,139.5 C85,139.5 77,137.5 73,133 Z" fill="#dac6bc"/>
    <path d="M68,131 C85,129.5 106,129.5 122,131 L122,132.3 C106,131 85,131 68,132.3 Z" fill="#5a2a28"/>
    <!-- nose -->
    <path d="M86,92 C85,102 80,109 78,115 C80,121 88,123 95,123 C102,123 110,121 112,115 C110,109 105,102 104,92 Z" fill="#d99a80" opacity="0.7" filter="url(#bbh)"/>
    <path d="M86,94 C85,103 81,108 78,113" fill="none" stroke="#8e4c3c" stroke-width="2.5" opacity="0.55" filter="url(#bbh)"/>
    <path d="M104,94 C105,103 109,108 112,113" fill="none" stroke="#8e4c3c" stroke-width="2.5" opacity="0.55" filter="url(#bbh)"/>
    <ellipse cx="95" cy="112" rx="6.5" ry="5" fill="#ecb8a0" opacity="0.85" filter="url(#bbh)"/>
    <ellipse cx="95" cy="99" rx="3" ry="8" fill="#e6ac94" opacity="0.7" filter="url(#bbh)"/>
    <path d="M79,111 C76,115 76,119 80,121.5" fill="none" stroke="#7e4236" stroke-width="2" opacity="0.7" filter="url(#bbh)"/>
    <path d="M111,111 C114,115 114,119 110,121.5" fill="none" stroke="#7e4236" stroke-width="2" opacity="0.7" filter="url(#bbh)"/>
    <ellipse cx="86" cy="121" rx="4" ry="1.8" fill="#5a2c24" opacity="0.9"/>
    <ellipse cx="104" cy="121" rx="4" ry="1.8" fill="#5a2c24" opacity="0.9"/>
    <!-- eyebrows -->
    <path d="M48,78 C57,71 72,70 85,73 L85,78.5 C72,76 60,77 49,81 Z" fill="#46302a" filter="url(#blh)"/>
    <path d="M103,74 C117,70 131,71 142,76 L142,80.5 C131,77 118,77 103,79.5 Z" fill="#46302a" filter="url(#blh)"/>
    <!-- upper lid shadow -->
    <ellipse cx="68.5" cy="84" rx="15" ry="4" fill="#7a4234" opacity="0.55" filter="url(#bbh)"/>
    <ellipse cx="122.5" cy="85" rx="15" ry="4" fill="#7a4234" opacity="0.55" filter="url(#bbh)"/>
    <!-- lower lid shading -->
    <ellipse cx="68.5" cy="93" rx="13" ry="3.5" fill="#9a5048" opacity="0.55" filter="url(#bbh)"/>
    <ellipse cx="122.5" cy="94" rx="13" ry="3.5" fill="#9a5048" opacity="0.55" filter="url(#bbh)"/>
    <!-- eyes -->
    <path d="M55,87.5 C60,82 76,81.5 82,87.5 C76,92 61,92 55,87.5 Z" fill="#1c1210"/>
    <path d="M108,88.5 C114,83 130,82.5 137,88.5 C130,93 115,93 108,88.5 Z" fill="#1c1210"/>
    <circle cx="65" cy="86.5" r="0.8" fill="#cfc4c0"/>
    <circle cx="119" cy="87.5" r="0.8" fill="#cfc4c0"/>
    <!-- glasses -->
    <g fill="none" stroke="#8a6e62" stroke-width="1.1">
      <path d="M41,84 C55,82 75,82 87,84.5 C87,90 86,94 82,96"/>
      <path d="M41,84 C41,89 43,94 47,96"/>
      <path d="M103,84.5 C117,82 133,82 145,84 C145,90 143,94 139,96"/>
      <path d="M103,84.5 C103,90 104,94 108,96"/>
      <path d="M87,85 C92,83.5 98,83.5 103,85"/>
      <path d="M41,84 L35,120" stroke="#2a1e1a" stroke-width="1.6"/>
      <path d="M145,84 L152,86 L154.5,126" stroke="#2a1e1a" stroke-width="1.6"/>
    </g>
    <!-- hair -->
    <path d="M50,-3 L146,-3 C152,3 157,8 160,13 C164,20 166,27 167,33 C169,39 170.5,45 170.5,50 C170.5,56 169.5,61 168,66 C166.5,71 165,75 163.5,80 C160,78 157,78 155,80 L156,100 L151.5,100 C150,92 147,84 146,79 C145,73 143,68 141,63 C138,57 135,53 131,49 C126,45 120,42 114,40 C108,38 102,36.5 98,36 C94,34 90,33 85,32.6 C78,33 71,33.5 65,34 C59,34.5 55,35 52,36 C51,41 50,45 49,49 C48,55 47,60 45.7,65 C44,70 42,74 40,79 C36,80 32,80 29,80 C27,74 26,69 26,65 C24,60 22,55 22,49 C22,43 23,37 24.5,32.6 C26,25 29,18 32.6,13 C37,7 43,2 50,-3 Z" fill="#211d1c"/>
    <clipPath id="hch"><path d="M50,-3 L146,-3 C152,3 157,8 160,13 C164,20 166,27 167,33 C169,39 170.5,45 170.5,50 C170.5,56 169.5,61 168,66 C166.5,71 165,75 163.5,80 C160,78 157,78 155,80 L156,100 L151.5,100 C150,92 147,84 146,79 C145,73 143,68 141,63 C138,57 135,53 131,49 C126,45 120,42 114,40 C108,38 102,36.5 98,36 C94,34 90,33 85,32.6 C78,33 71,33.5 65,34 C59,34.5 55,35 52,36 C51,41 50,45 49,49 C48,55 47,60 45.7,65 C44,70 42,74 40,79 C36,80 32,80 29,80 C27,74 26,69 26,65 C24,60 22,55 22,49 C22,43 23,37 24.5,32.6 C26,25 29,18 32.6,13 C37,7 43,2 50,-3 Z"/></clipPath>
    <g fill="none" stroke="#504a48" stroke-width="1.1" opacity="0.65" clip-path="url(#hch)">
      <path d="M76.4,13.9 A5.0,5.0 0 0 1 67.1,11.2"/>
      <path d="M82.3,5.6 A4.5,4.5 0 0 1 73.6,5.7"/>
      <path d="M48.2,15.8 A4.9,4.9 0 0 1 39.6,20.2"/>
      <path d="M35.0,70.0 A3.9,3.9 0 0 1 28.8,67.2"/>
      <path d="M121.0,30.8 A4.6,4.6 0 0 1 113.1,31.9"/>
      <path d="M82.2,25.9 A4.8,4.8 0 0 1 89.3,20.5"/>
      <path d="M134.0,26.5 A5.9,5.9 0 0 1 123.8,21.1"/>
      <path d="M137.8,12.9 A4.5,4.5 0 0 1 129.1,11.4"/>
      <path d="M132.4,49.9 A5.6,5.6 0 0 1 136.2,39.3"/>
      <path d="M164.8,38.8 A5.0,5.0 0 0 1 155.4,35.5"/>
      <path d="M140.7,18.6 A4.2,4.2 0 0 1 146.9,22.0"/>
      <path d="M94.7,14.3 A3.4,3.4 0 0 1 88.4,11.9"/>
      <path d="M47.2,16.3 A4.2,4.2 0 0 1 45.4,23.3"/>
      <path d="M150.5,69.4 A5.6,5.6 0 0 1 149.6,58.6"/>
      <path d="M162.4,15.3 A3.5,3.5 0 0 1 159.2,9.6"/>
      <path d="M60.4,3.4 A4.3,4.3 0 0 1 65.2,-3.5"/>
      <path d="M158.0,50.8 A4.5,4.5 0 0 1 165.1,56.5"/>
      <path d="M37.4,66.4 A5.3,5.3 0 0 1 29.7,73.7"/>
      <path d="M43.6,50.8 A3.2,3.2 0 0 1 37.8,50.7"/>
      <path d="M52.2,26.5 A3.2,3.2 0 0 1 47.1,29.0"/>
      <path d="M42.6,26.2 A3.1,3.1 0 0 1 38.8,31.0"/>
      <path d="M44.4,22.7 A4.0,4.0 0 0 1 46.1,15.8"/>
      <path d="M142.2,77.9 A4.4,4.4 0 0 1 148.5,73.5"/>
      <path d="M42.3,23.4 A3.8,3.8 0 0 1 42.0,30.2"/>
      <path d="M32.1,77.8 A4.6,4.6 0 0 1 25.5,71.6"/>
      <path d="M33.7,36.7 A5.9,5.9 0 0 1 26.4,46.1"/>
      <path d="M63.6,25.1 A3.5,3.5 0 0 1 63.8,32.0"/>
      <path d="M138.0,22.3 A3.7,3.7 0 0 1 134.2,28.5"/>
      <path d="M146.7,57.4 A5.5,5.5 0 0 1 151.2,66.4"/>
      <path d="M102.5,28.3 A3.1,3.1 0 0 1 96.9,29.3"/>
      <path d="M167.6,34.4 A5.8,5.8 0 0 1 156.1,33.7"/>
      <path d="M79.0,20.7 A3.7,3.7 0 0 1 74.4,15.8"/>
      <path d="M146.9,32.7 A5.0,5.0 0 0 1 148.6,41.2"/>
      <path d="M91.2,18.6 A5.4,5.4 0 0 1 96.8,9.4"/>
      <path d="M167.9,29.5 A4.2,4.2 0 0 1 160.1,32.5"/>
      <path d="M53.0,8.0 A3.5,3.5 0 0 1 47.2,11.7"/>
      <path d="M43.5,59.5 A5.9,5.9 0 0 1 52.3,66.6"/>
      <path d="M106.9,9.7 A3.0,3.0 0 0 1 101.1,11.3"/>
      <path d="M142.3,20.1 A3.8,3.8 0 0 1 141.5,13.2"/>
      <path d="M112.2,23.4 A4.3,4.3 0 0 1 107.1,16.5"/>
      <path d="M102.1,5.4 A4.3,4.3 0 0 1 96.0,1.4"/>
      <path d="M138.8,9.1 A4.4,4.4 0 0 1 141.5,17.4"/>
      <path d="M40.4,47.4 A3.7,3.7 0 0 1 41.8,40.0"/>
      <path d="M119.8,35.9 A4.6,4.6 0 0 1 128.9,35.9"/>
      <path d="M164.2,18.6 A4.7,4.7 0 0 1 155.2,21.4"/>
      <path d="M49.4,11.4 A4.3,4.3 0 0 1 41.4,10.9"/>
      <path d="M40.6,49.0 A5.4,5.4 0 0 1 36.3,57.6"/>
      <path d="M47.4,74.7 A5.9,5.9 0 0 1 46.9,63.0"/>
      <path d="M163.4,66.4 A3.5,3.5 0 0 1 169.0,62.4"/>
      <path d="M73.5,11.4 A4.0,4.0 0 0 1 78.0,16.4"/>
      <path d="M103.2,37.0 A3.1,3.1 0 0 1 105.6,31.4"/>
      <path d="M100.1,-0.8 A6.0,6.0 0 0 1 95.6,10.1"/>
      <path d="M41.4,17.6 A3.1,3.1 0 0 1 42.5,23.4"/>
      <path d="M46.8,27.7 A5.7,5.7 0 0 1 46.2,38.4"/>
      <path d="M45.8,67.2 A4.7,4.7 0 0 1 51.8,72.9"/>
      <path d="M38.0,55.6 A4.3,4.3 0 0 1 31.0,50.9"/>
      <path d="M40.0,64.4 A3.2,3.2 0 0 1 37.1,69.9"/>
      <path d="M154.2,20.3 A3.4,3.4 0 0 1 160.4,18.9"/>
      <path d="M42.5,15.6 A3.2,3.2 0 0 1 38.9,10.8"/>
      <path d="M51.3,30.1 A3.1,3.1 0 0 1 48.5,25.7"/>
    </g>
  </g>
</svg>
  <rect x="544.5" y="143.5" width="82.5" height="33.5" fill="#fff" stroke="#8a8a8a" stroke-width="1"/>
  <rect x="732" y="143.5" width="83" height="33.5" fill="#fff" stroke="#8a8a8a" stroke-width="1"/>
  <line x1="535" x2="541.5" y1="161.5" y2="161.5" stroke="#0a0a0a" stroke-width="2.6"/><path d="M540.5,158.5 L544,161.5 L540.5,164.5 Z" fill="#0a0a0a"/>
  <line x1="628" x2="635.5" y1="161.5" y2="161.5" stroke="#0a0a0a" stroke-width="2.6"/><path d="M634.5,158.5 L638,161.5 L634.5,164.5 Z" fill="#0a0a0a"/>
  <line x1="722" x2="728.5" y1="162.5" y2="162.5" stroke="#0a0a0a" stroke-width="2.6"/><path d="M727.5,159.5 L731,162.5 L727.5,165.5 Z" fill="#0a0a0a"/>
  <line x1="815.5" x2="821.5" y1="162.5" y2="162.5" stroke="#0a0a0a" stroke-width="2.6"/><path d="M820.5,159.5 L824,162.5 L820.5,165.5 Z" fill="#0a0a0a"/>
  <g font-family="Liberation Sans, Arial, sans-serif" fill="#111" stroke="#111" stroke-width="0.25" text-anchor="middle">
    <text x="585.4" y="156.6" font-size="10.2" textLength="71.5" lengthAdjust="spacingAndGlyphs">Self-supervised</text>
    <text x="585.7" y="170.1" font-size="10.2" textLength="45.4" lengthAdjust="spacingAndGlyphs">CycleGAN</text>
    <text x="773.6" y="158" font-size="10.2" textLength="71.3" lengthAdjust="spacingAndGlyphs">Self-supervised</text>
    <text x="774" y="171.4" font-size="10.2" textLength="44" lengthAdjust="spacingAndGlyphs">StyleGAN</text>
  </g>
  <g font-family="Liberation Sans, Arial, sans-serif" fill="#111" stroke="#111" stroke-width="0.3">
    <text x="470.9" y="208.6" font-size="15.4" textLength="68.8" lengthAdjust="spacingAndGlyphs">LR: 16×16</text>
    <text x="636.9" y="233.3" font-size="15.4" textLength="94.3" lengthAdjust="spacingAndGlyphs">MR: 128×128</text>
    <text x="866.9" y="280.3" font-size="15" textLength="103.5" lengthAdjust="spacingAndGlyphs">HR:1024×1024</text>
  </g>
</g>

</svg>
</body></html>
